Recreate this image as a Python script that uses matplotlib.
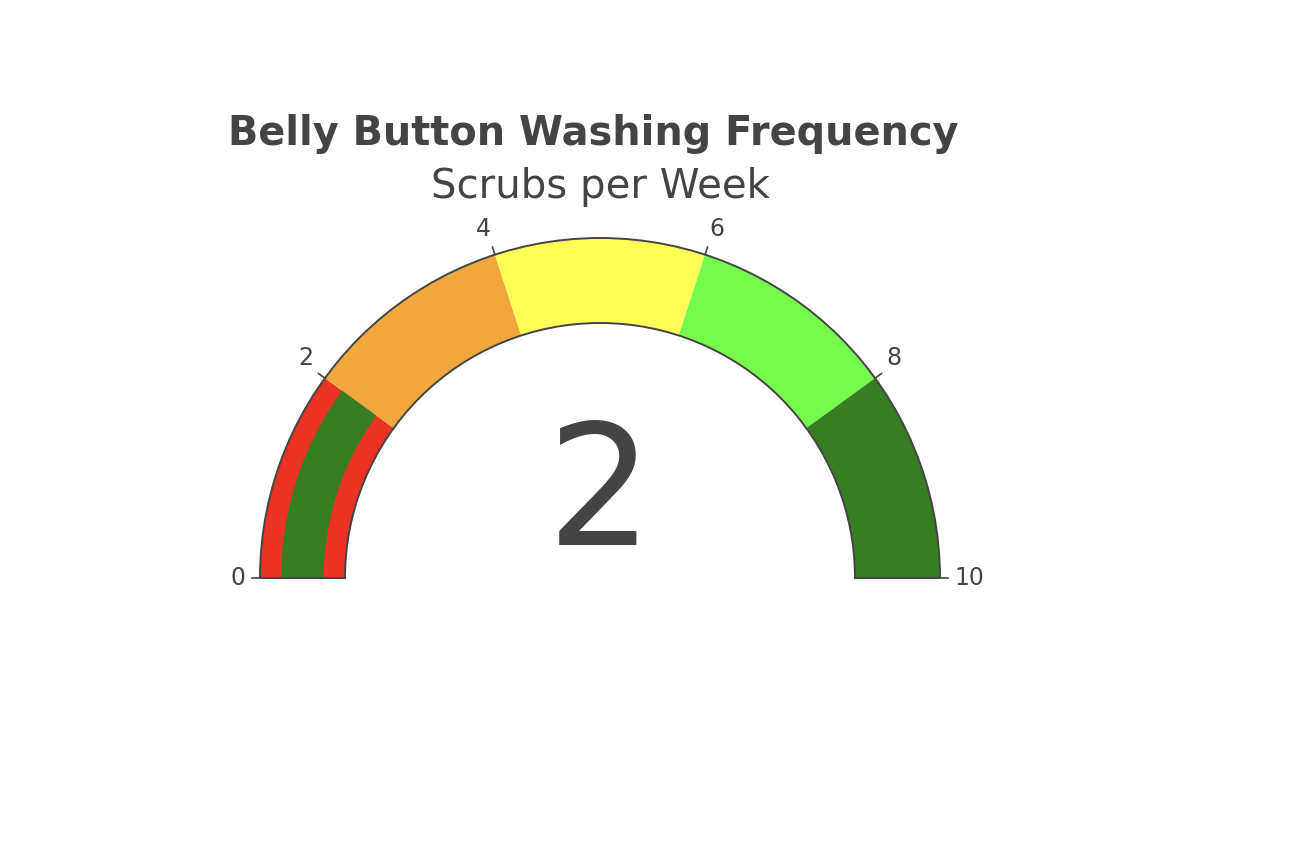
import matplotlib.pyplot as plt
from matplotlib.patches import Wedge, Arc
import numpy as np

# gauge data
value = 2
gauge_min, gauge_max = 0, 10
step_ranges = [(0, 2), (2, 4), (4, 6), (6, 8), (8, 10)]
step_colors = ['#ea3323', '#f0a83c', '#fffe55', '#75fb4c', '#377e22']
bar_color = '#377e22'
tick_vals = [0, 2, 4, 6, 8, 10]
title = 'Belly Button Washing Frequency'
subtitle = 'Scrubs per Week'

W, H = 1289, 866
fig = plt.figure(figsize=(W / 100, H / 100), dpi=100)
ax = fig.add_axes([0, 0, 1, 1])
ax.set_xlim(0, W)
ax.set_ylim(0, H)
ax.set_aspect('equal')
ax.axis('off')

cx, cy = 600, H - 578
r_out, r_in = 340, 255
band = r_out - r_in
dark = '#444444'


def ang(v):
    return 180 - 180 * (v - gauge_min) / (gauge_max - gauge_min)


for (a, b), col in zip(step_ranges, step_colors):
    ax.add_patch(Wedge((cx, cy), r_out, ang(b), ang(a), width=band,
                       facecolor=col, edgecolor='none'))

# value bar, half the band thickness
bar_w = band * 0.5
ax.add_patch(Wedge((cx, cy), r_out - (band - bar_w) / 2, ang(value), ang(gauge_min),
                   width=bar_w, facecolor=bar_color, edgecolor='none'))

# outline
ax.add_patch(Arc((cx, cy), 2 * r_out, 2 * r_out, theta1=0, theta2=180, color=dark, lw=1.4))
ax.add_patch(Arc((cx, cy), 2 * r_in, 2 * r_in, theta1=0, theta2=180, color=dark, lw=1.4))
ax.plot([cx - r_out, cx - r_in], [cy, cy], color=dark, lw=1.4)
ax.plot([cx + r_in, cx + r_out], [cy, cy], color=dark, lw=1.4)

# ticks and labels
for t in tick_vals:
    th = np.radians(ang(t))
    c, s = np.cos(th), np.sin(th)
    ax.plot([cx + r_out * c, cx + (r_out + 8) * c], [cy + r_out * s, cy + (r_out + 8) * s],
            color=dark, lw=1.2)
    rl = r_out + 14
    ha = 'right' if c < -0.3 else ('left' if c > 0.3 else 'center')
    va = 'bottom' if s > 0.3 else 'center'
    ax.text(cx + rl * c, cy + rl * s, str(t), ha=ha, va=va, fontsize=17, color=dark)

ax.text(cx, H - 545, str(value), ha='center', va='baseline', fontsize=120, color=dark)

ax.text(593, H - 145, title, ha='center', va='baseline', fontsize=28.7,
        fontweight='bold', color=dark)
ax.text(600, H - 198, subtitle, ha='center', va='baseline', fontsize=29, color=dark)

fig.savefig('out.png', dpi=100)
